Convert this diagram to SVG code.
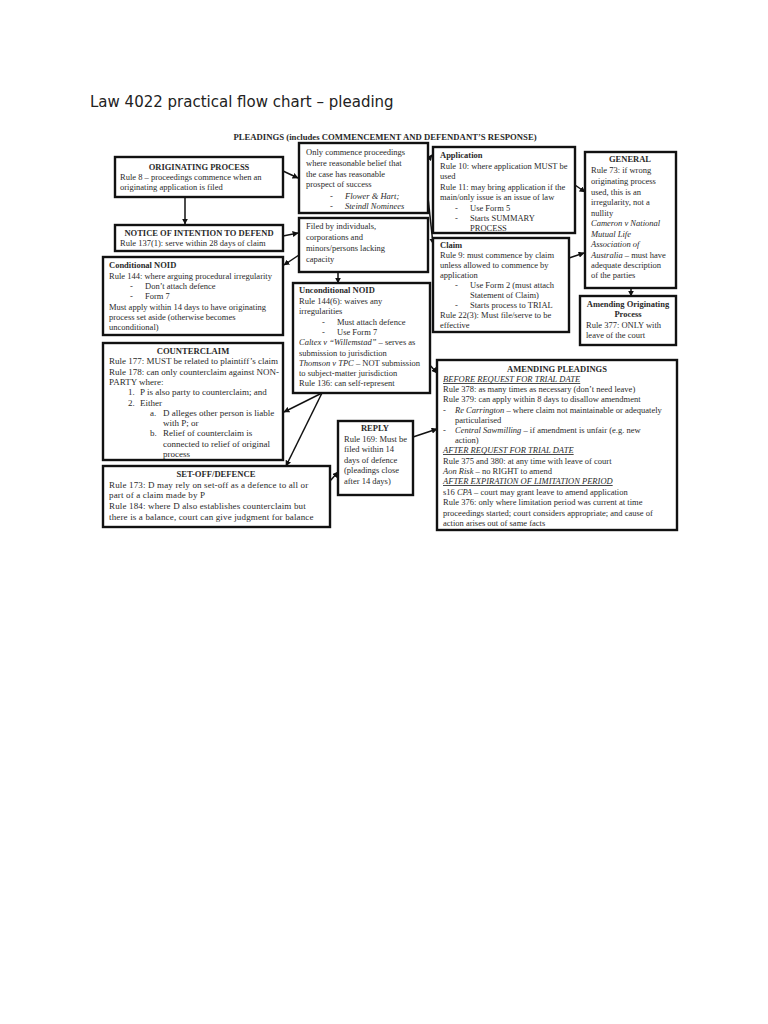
<svg xmlns="http://www.w3.org/2000/svg" width="768" height="1024" viewBox="0 0 768 1024">
<style>
.bx{fill:#fff;stroke:#111;stroke-width:2.4}
.t{font-family:"Liberation Serif","Times New Roman",serif;font-size:8.5px;fill:#2a2a2a}
.b{font-weight:bold}
.i{font-style:italic}
.u{text-decoration:underline}
.c{text-anchor:middle}
.cc .t{font-size:9px}
.so .t{font-size:9px;letter-spacing:0.15px}
.cc .b,.so .b{font-size:8.6px;letter-spacing:0}
.ln{stroke:#111;stroke-width:1.5;fill:none;marker-end:url(#ah)}
</style>
<defs>
<marker id="ah" viewBox="0 0 10 10" refX="9" refY="5" markerWidth="6" markerHeight="6" orient="auto" markerUnits="userSpaceOnUse">
<path d="M0,0 L10,5 L0,10 z" fill="#111"/>
</marker>
</defs>
<rect width="768" height="1024" fill="#fff"/>
<text x="90" y="107" font-family="DejaVu Sans, sans-serif" font-size="15" fill="#222">Law 4022 practical flow chart – pleading</text>
<text x="385" y="140" class="t b c" style="font-size:8.7px">PLEADINGS (includes COMMENCEMENT AND DEFENDANT’S RESPONSE)</text>

<g id="connectors">
<line class="ln" x1="185" y1="197" x2="185" y2="224"/>
<line class="ln" x1="283" y1="171" x2="298" y2="178"/>
<line class="ln" x1="283" y1="236" x2="298" y2="233"/>
<line class="ln" x1="299" y1="255" x2="284" y2="265"/>
<line class="ln" x1="338" y1="272" x2="338" y2="283"/>
<line class="ln" x1="428" y1="160" x2="432" y2="155"/>
<line class="ln" x1="424" y1="160" x2="433" y2="244"/>
<line class="ln" x1="575" y1="185" x2="585" y2="192"/>
<line class="ln" x1="569" y1="258" x2="584" y2="253"/>
<line class="ln" x1="631" y1="288" x2="631" y2="296"/>
<line class="ln" x1="322" y1="393" x2="284" y2="412"/>
<line class="ln" x1="322" y1="393" x2="286" y2="466"/>
<line class="ln" x1="428" y1="363" x2="437" y2="373"/>
<line class="ln" x1="330" y1="481" x2="338" y2="472"/>
<line class="ln" x1="413" y1="437" x2="437" y2="429"/>
</g>

<g id="originating">
<rect class="bx" x="115" y="157" width="168" height="40"/>
<text class="t b c" x="199" y="170">ORIGINATING PROCESS</text>
<text class="t" x="120" y="180">Rule 8 – proceedings commence when an</text>
<text class="t" x="120" y="190">originating application is filed</text>
</g>

<g id="noid">
<rect class="bx" x="115" y="225" width="168" height="26"/>
<text class="t b c" x="199" y="236">NOTICE OF INTENTION TO DEFEND</text>
<text class="t" x="120" y="246">Rule 137(1): serve within 28 days of claim</text>
</g>

<g id="only-commence">
<rect class="bx" x="299" y="143" width="129" height="70"/>
<text class="t" x="306" y="155">Only commence proceedings</text>
<text class="t" x="306" y="166">where reasonable belief that</text>
<text class="t" x="306" y="177">the case has reasonable</text>
<text class="t" x="306" y="187">prospect of success</text>
<text class="t" x="330" y="199">-</text><text class="t i" x="345" y="199">Flower &amp; Hart;</text>
<text class="t" x="330" y="209">-</text><text class="t i" x="345" y="209">Steindl Nominees</text>
</g>

<g id="filed-by">
<rect class="bx" x="299" y="218" width="129" height="54"/>
<text class="t" x="306" y="229">Filed by individuals,</text>
<text class="t" x="306" y="240">corporations and</text>
<text class="t" x="306" y="251">minors/persons lacking</text>
<text class="t" x="306" y="262">capacity</text>
</g>

<g id="application">
<rect class="bx" x="433" y="147" width="142" height="86"/>
<text class="t b" x="440" y="158">Application</text>
<text class="t" x="440" y="169">Rule 10: where application MUST be</text>
<text class="t" x="440" y="179">used</text>
<text class="t" x="440" y="190">Rule 11: may bring application if the</text>
<text class="t" x="440" y="200">main/only issue is an issue of law</text>
<text class="t" x="455" y="211">-</text><text class="t" x="470" y="211">Use Form 5</text>
<text class="t" x="455" y="221">-</text><text class="t" x="470" y="221">Starts SUMMARY</text>
<text class="t" x="470" y="231">PROCESS</text>
</g>

<g id="claim">
<rect class="bx" x="433" y="238" width="136" height="94"/>
<text class="t b" x="440" y="248">Claim</text>
<text class="t" x="440" y="258">Rule 9: must commence by claim</text>
<text class="t" x="440" y="268">unless allowed to commence by</text>
<text class="t" x="440" y="278">application</text>
<text class="t" x="455" y="288">-</text><text class="t" x="470" y="288">Use Form 2 (must attach</text>
<text class="t" x="470" y="298">Statement of Claim)</text>
<text class="t" x="455" y="308">-</text><text class="t" x="470" y="308">Starts process to TRIAL</text>
<text class="t" x="440" y="318">Rule 22(3): Must file/serve to be</text>
<text class="t" x="440" y="328">effective</text>
</g>

<g id="general">
<rect class="bx" x="585" y="152" width="91" height="136"/>
<text class="t b c" x="630" y="162">GENERAL</text>
<text class="t" x="591" y="173">Rule 73: if wrong</text>
<text class="t" x="591" y="184">originating process</text>
<text class="t" x="591" y="195">used, this is an</text>
<text class="t" x="591" y="205">irregularity, not a</text>
<text class="t" x="591" y="216">nullity</text>
<text class="t i" x="591" y="226">Cameron v National</text>
<text class="t i" x="591" y="237">Mutual Life</text>
<text class="t i" x="591" y="247">Association of</text>
<text class="t" x="591" y="258"><tspan class="i">Australia</tspan> – must have</text>
<text class="t" x="591" y="268">adequate description</text>
<text class="t" x="591" y="278">of the parties</text>
</g>

<g id="amending-originating">
<rect class="bx" x="580" y="296" width="96" height="49"/>
<text class="t b c" x="628" y="307">Amending Originating</text>
<text class="t b c" x="628" y="317">Process</text>
<text class="t" x="586" y="328">Rule 377: ONLY with</text>
<text class="t" x="586" y="338">leave of the court</text>
</g>

<g id="conditional-noid">
<rect class="bx" x="103" y="257" width="180" height="78"/>
<text class="t b" x="109" y="268">Conditional NOID</text>
<text class="t" x="109" y="279">Rule 144: where arguing procedural irregularity</text>
<text class="t" x="130" y="289">-</text><text class="t" x="145" y="289">Don’t attach defence</text>
<text class="t" x="130" y="299">-</text><text class="t" x="145" y="299">Form 7</text>
<text class="t" x="109" y="310">Must apply within 14 days to have originating</text>
<text class="t" x="109" y="320">process set aside (otherwise becomes</text>
<text class="t" x="109" y="330">unconditional)</text>
</g>

<g id="unconditional-noid">
<rect class="bx" x="293" y="283" width="137" height="110"/>
<text class="t b" x="299" y="293">Unconditional NOID</text>
<text class="t" x="299" y="304">Rule 144(6): waives any</text>
<text class="t" x="299" y="314">irregularities</text>
<text class="t" x="322" y="325">-</text><text class="t" x="337" y="325">Must attach defence</text>
<text class="t" x="322" y="335">-</text><text class="t" x="337" y="335">Use Form 7</text>
<text class="t" x="299" y="345"><tspan class="i">Caltex v “Willemstad”</tspan> – serves as</text>
<text class="t" x="299" y="356">submission to jurisdiction</text>
<text class="t" x="299" y="366"><tspan class="i">Thomson v TPC</tspan> – NOT submission</text>
<text class="t" x="299" y="376">to subject-matter jurisdiction</text>
<text class="t" x="299" y="386">Rule 136: can self-represent</text>
</g>

<g id="counterclaim" class="cc">
<rect class="bx" x="103" y="343" width="180" height="117"/>
<text class="t b c" x="193" y="354">COUNTERCLAIM</text>
<text class="t" x="109" y="364">Rule 177: MUST be related to plaintiff’s claim</text>
<text class="t" x="109" y="375">Rule 178: can only counterclaim against NON-</text>
<text class="t" x="109" y="385">PARTY where:</text>
<text class="t" x="128" y="395">1.</text><text class="t" x="140" y="395">P is also party to counterclaim; and</text>
<text class="t" x="128" y="406">2.</text><text class="t" x="140" y="406">Either</text>
<text class="t" x="150" y="416">a.</text><text class="t" x="163" y="416">D alleges other person is liable</text>
<text class="t" x="163" y="426">with P; or</text>
<text class="t" x="150" y="436">b.</text><text class="t" x="163" y="436">Relief of counterclaim is</text>
<text class="t" x="163" y="447">connected to relief of original</text>
<text class="t" x="163" y="457">process</text>
</g>

<g id="setoff" class="so">
<rect class="bx" x="103" y="466" width="227" height="61"/>
<text class="t b c" x="216" y="477">SET-OFF/DEFENCE</text>
<text class="t" x="109" y="488">Rule 173: D may rely on set-off as a defence to all or</text>
<text class="t" x="109" y="498">part of a claim made by P</text>
<text class="t" x="109" y="509">Rule 184: where D also establishes counterclaim but</text>
<text class="t" x="109" y="520">there is a balance, court can give judgment for balance</text>
</g>

<g id="reply">
<rect class="bx" x="338" y="421" width="75" height="74"/>
<text class="t b c" x="375" y="431">REPLY</text>
<text class="t" x="344" y="442">Rule 169: Must be</text>
<text class="t" x="344" y="452">filed within 14</text>
<text class="t" x="344" y="463">days of defence</text>
<text class="t" x="344" y="473">(pleadings close</text>
<text class="t" x="344" y="484">after 14 days)</text>
</g>

<g id="amending-pleadings">
<rect class="bx" x="437" y="360" width="240" height="170"/>
<text class="t b c" x="557" y="372">AMENDING PLEADINGS</text>
<text class="t i u" x="443" y="382">BEFORE REQUEST FOR TRIAL DATE</text>
<text class="t" x="443" y="392">Rule 378: as many times as necessary (don’t need leave)</text>
<text class="t" x="443" y="402">Rule 379: can apply within 8 days to disallow amendment</text>
<text class="t" x="443" y="413">-</text><text class="t" x="455" y="413"><tspan class="i">Re Carrington</tspan> – where claim not maintainable or adequately</text>
<text class="t" x="455" y="423">particularised</text>
<text class="t" x="443" y="433">-</text><text class="t" x="455" y="433"><tspan class="i">Central Sawmilling</tspan> – if amendment is unfair (e.g. new</text>
<text class="t" x="455" y="443">action)</text>
<text class="t i u" x="443" y="453">AFTER REQUEST FOR TRIAL DATE</text>
<text class="t" x="443" y="464">Rule 375 and 380: at any time with leave of court</text>
<text class="t" x="443" y="474"><tspan class="i">Aon Risk</tspan> – no RIGHT to amend</text>
<text class="t i u" x="443" y="484">AFTER EXPIRATION OF LIMITATION PERIOD</text>
<text class="t" x="443" y="495">s16 <tspan class="i">CPA</tspan> – court may grant leave to amend application</text>
<text class="t" x="443" y="505">Rule 376: only where limitation period was current at time</text>
<text class="t" x="443" y="516">proceedings started; court considers appropriate; and cause of</text>
<text class="t" x="443" y="526">action arises out of same facts</text>
</g>
</svg>
